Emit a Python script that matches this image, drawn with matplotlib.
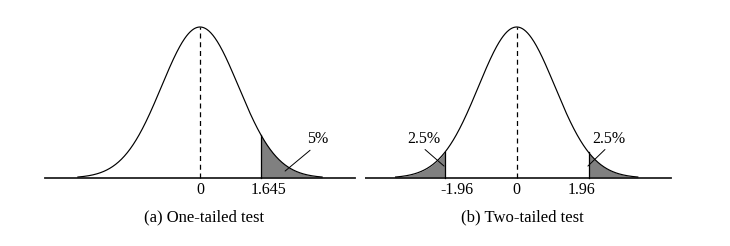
import numpy as np
import matplotlib.pyplot as plt

# critical values and tail areas for the two panels
one_tail_crit = [1.645]
one_tail_labels = ["5%"]
two_tail_crit = [-1.96, 1.96]
two_tail_labels = ["2.5%", "2.5%"]
tick_one = [0, 1.645]
tick_one_text = ["0", "1.645"]
tick_two = [-1.96, 0, 1.96]
tick_two_text = ["-1.96", "0", "1.96"]
captions = ["(a) One-tailed test", "(b) Two-tailed test"]

plt.rcParams['font.family'] = ['Liberation Serif', 'DejaVu Serif']

W, H = 730, 246
fig = plt.figure(figsize=(W / 100, H / 100), dpi=100)

# bell curve, drawn slightly wider than a unit normal like the original figure
sigma = 1.04
x = np.linspace(-3.3, 3.3, 500)
dens = np.exp(-(x / sigma) ** 2 / 2)


def bell(v):
    return np.exp(-(v / sigma) ** 2 / 2)


ypx = 151.0       # pixels per unit of curve height (peak = 1)
base_px = 178.0   # baseline row, from top


def make_axes(left_px, right_px, center_px, pxu):
    ax = fig.add_axes([left_px / W, 0, (right_px - left_px) / W, 1])
    ax.set_xlim((left_px - center_px) / pxu, (right_px - center_px) / pxu)
    ax.set_ylim(-(H - base_px) / ypx, base_px / ypx)
    ax.axis("off")
    return ax


def draw_curve(ax, x0, x1):
    ax.plot([x0, x1], [0, 0], color="#222222", lw=1.3)
    ax.plot(x, dens, color="black", lw=0.85)
    ax.plot([0, 0], [0, 1], color="black", lw=0.9, ls=(0, (4, 3)))


def shade(ax, c):
    m = x <= c if c < 0 else x >= c
    ax.fill_between(x[m], 0, dens[m], color="#808080", lw=0)
    ax.plot([c, c], [0, bell(c)], color="black", lw=0.9)


fs = 11.5
line = dict(arrowstyle="-", color="black", lw=0.7, shrinkA=0, shrinkB=0)

# (a) one-tailed
ax1 = make_axes(0, 365, 200, 37.0)
draw_curve(ax1, -4.19, 4.19)
for c in one_tail_crit:
    shade(ax1, c)
for t, s, dx in zip(tick_one, tick_one_text, [0.02, 0.22]):
    ax1.text(t + dx, -0.025, s, ha="center", va="top", fontsize=fs)
ax1.annotate(one_tail_labels[0], xy=(2.30, 0.046), xytext=(3.18, 0.255),
             ha="center", va="center", fontsize=fs,
             arrowprops=dict(line, relpos=(0.3, 0)))
ax1.text(0.1, -0.26, captions[0], ha="center", va="center", fontsize=fs + 0.5)

# (b) two-tailed
ax2 = make_axes(365, 730, 516.7, 36.7)
draw_curve(ax2, -4.27, 4.2)
for c in two_tail_crit:
    shade(ax2, c)
for t, s, dx in zip(tick_two, tick_two_text, [0.33, 0.0, -0.2]):
    ax2.text(t + dx, -0.025, s, ha="center", va="top", fontsize=fs)
ax2.annotate(two_tail_labels[0], xy=(-1.98, 0.079), xytext=(-2.53, 0.26),
             ha="center", va="center", fontsize=fs,
             arrowprops=dict(line, relpos=(0.44, 0)))
ax2.annotate(two_tail_labels[1], xy=(1.94, 0.079), xytext=(2.51, 0.26),
             ha="center", va="center", fontsize=fs,
             arrowprops=dict(line, relpos=(0.47, 0)))
ax2.text(0.15, -0.26, captions[1], ha="center", va="center", fontsize=fs + 0.5)

fig.savefig("out.png", dpi=100, facecolor="white")
